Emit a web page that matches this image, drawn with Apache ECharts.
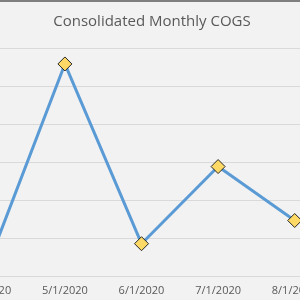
<!DOCTYPE html>
<html><head><meta charset="utf-8">
<script src="https://cdn.jsdelivr.net/npm/echarts@6/dist/echarts.min.js"></script>
<style>html,body{margin:0;padding:0;background:#f2f2f2;overflow:hidden;width:300px;height:300px;}
#c{position:absolute;left:-50px;top:0;width:383px;height:300px;}</style>
</head><body><div id="c"></div>
<script>
const categories = ['4/1/2020', '5/1/2020', '6/1/2020', '7/1/2020', '8/1/2020'];
const cogs = [3.2, 55.8, 8.5, 28.8, 14.6];
const yMin = 0, yMax = 60, yStep = 10;
const titleText = 'Consolidated Monthly COGS';

const chart = echarts.init(document.getElementById('c'));
chart.setOption({
  backgroundColor: '#f2f2f2',
  animation: false,
  graphic: [
    { type: 'rect', shape: { x: 0, y: 0, width: 383, height: 2 }, style: { fill: '#7f7f7f' }, silent: true },
    { type: 'text', x: 202, y: 22, silent: true,
      style: { text: titleText, textAlign: 'center', textVerticalAlign: 'middle',
        font: 'normal 15px "Open Sans"', fill: '#595959' } }
  ],
  grid: { left: 0, right: 0, top: 48, bottom: 24 },
  xAxis: {
    type: 'category', data: categories, boundaryGap: true,
    axisLine: { show: true, lineStyle: { color: '#d9d9d9' } },
    axisTick: { show: false },
    axisLabel: { interval: 0, color: '#595959', fontFamily: 'Open Sans', fontSize: 11, margin: 9 }
  },
  yAxis: {
    type: 'value', min: yMin, max: yMax, interval: yStep,
    axisLabel: { show: false }, axisLine: { show: false }, axisTick: { show: false },
    splitLine: { lineStyle: { color: '#d9d9d9', width: 1 } }
  },
  series: [{
    type: 'line', data: cogs,
    lineStyle: { color: '#5b9bd5', width: 3 },
    symbol: 'diamond', symbolSize: 14,
    itemStyle: { color: '#ffd966', borderColor: '#262626', borderWidth: 1 }
  }]
});
</script></body></html>
